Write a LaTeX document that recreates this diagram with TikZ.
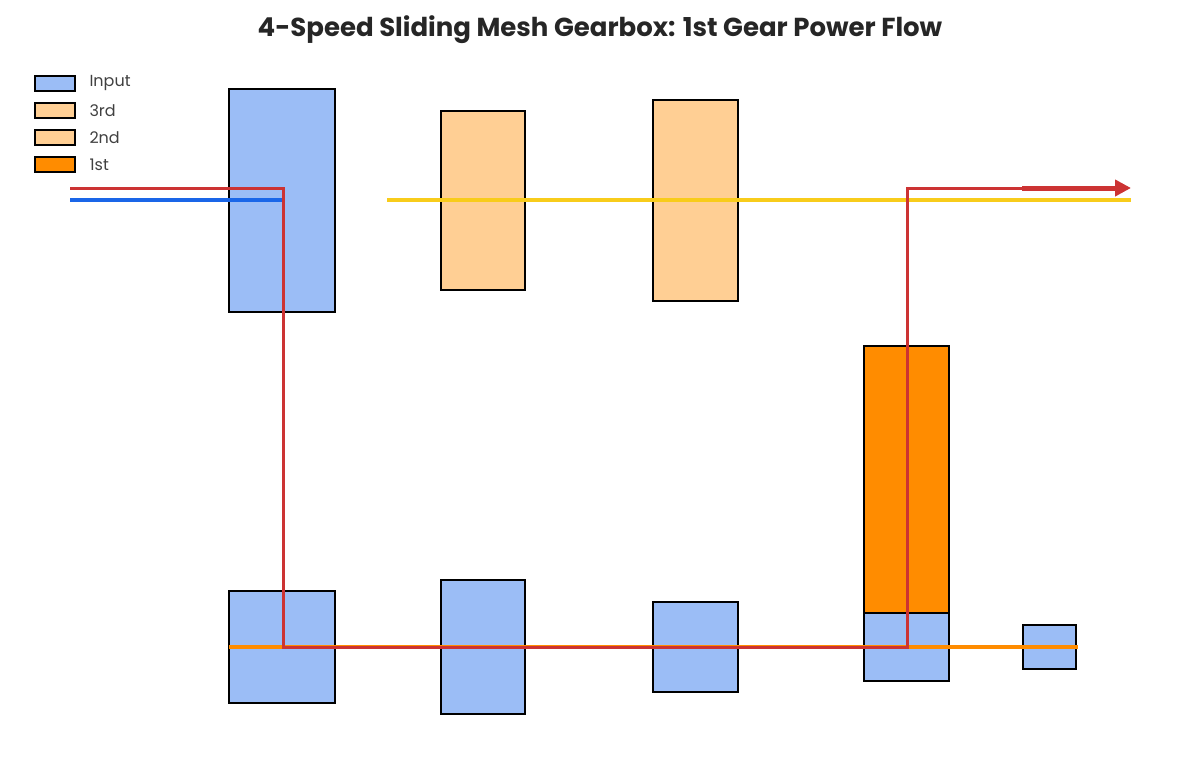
\documentclass[tikz,border=0pt]{standalone}
\usepackage{fontspec}
\setmainfont{Poppins}
\usetikzlibrary{arrows.meta}
\definecolor{gblue}{HTML}{9BBDF6}
\definecolor{glight}{HTML}{FFCF94}
\definecolor{gorange}{HTML}{FF8C00}
\definecolor{sblue}{HTML}{1A66E8}
\definecolor{syellow}{HTML}{F8CC1B}
\definecolor{pred}{HTML}{CC3333}
\tikzset{
 gear/.style={draw=black,line width=1.5pt,inner sep=0pt,outer sep=0pt},
 leg/.style={gear,minimum width=40pt,minimum height=15pt,anchor=north west},
 legt/.style={anchor=west,font=\fontsize{16}{16}\selectfont,text=black!75},
}
\newcommand{\gbox}[6]{\node[gear,fill=#6,minimum width={#4-#2},minimum height={#5-#3},anchor=north west] (#1) at (#2,#3) {};}
\begin{document}
\begin{tikzpicture}[x=1pt,y=-1pt]
\useasboundingbox (0,0) rectangle (1200,763);
\node[font=\fontsize{26}{26}\selectfont\bfseries,text=black!85] (title) at (600,30) {4-Speed Sliding Mesh Gearbox: 1st Gear Power Flow};
% legend
\node[leg,fill=gblue] (l1) at (35,76) {}; \node[legt] (t1) at (86,83.5) {Input};
\node[leg,fill=glight] (l2) at (35,103) {}; \node[legt] (t2) at (86,110.5) {3rd};
\node[leg,fill=glight] (l3) at (35,130) {}; \node[legt] (t3) at (86,137.5) {2nd};
\node[leg,fill=gorange] (l4) at (35,157) {}; \node[legt] (t4) at (86,164.5) {1st};
% gears
\gbox{gin}{229}{89}{335}{312}{gblue}
\gbox{g3}{441}{111}{525}{290}{glight}
\gbox{g2}{653}{100}{738}{301}{glight}
\gbox{g1}{864}{346}{949}{613}{gorange}
\gbox{c1}{229}{591}{335}{703}{gblue}
\gbox{c2}{441}{580}{525}{714}{gblue}
\gbox{c3}{653}{602}{738}{692}{gblue}
\gbox{c4}{864}{613}{949}{681}{gblue}
\gbox{c5}{1023}{625}{1076}{669}{gblue}
% shafts
\coordinate (ia) at (70,200); \coordinate (ib) at (284,200);
\coordinate (ma) at (387,200); \coordinate (mb) at (1131,200);
\coordinate (la) at (229,647); \coordinate (lb) at (1078,647);
\draw[sblue,line width=4pt] (ia) -- (ib);
\draw[syellow,line width=4pt] (ma) -- (mb);
\draw[gorange,line width=3.5pt] (la) -- (lb);
% power flow
\coordinate (p0) at (70,188); \coordinate (p1) at (283,188);
\coordinate (p2) at (283,647); \coordinate (p3) at (907,647);
\coordinate (p4) at (907,188); \coordinate (p5) at (1022,188); \coordinate (p6) at (1131,188);
\draw[pred,line width=3pt] (p0) -- (p1) -- (p2) -- (p3) -- (p4) -- (p5);
\draw[pred,line width=5pt,-{Triangle[length=16pt,width=16pt]}] (p5) -- (p6);
\end{tikzpicture}
\end{document}
